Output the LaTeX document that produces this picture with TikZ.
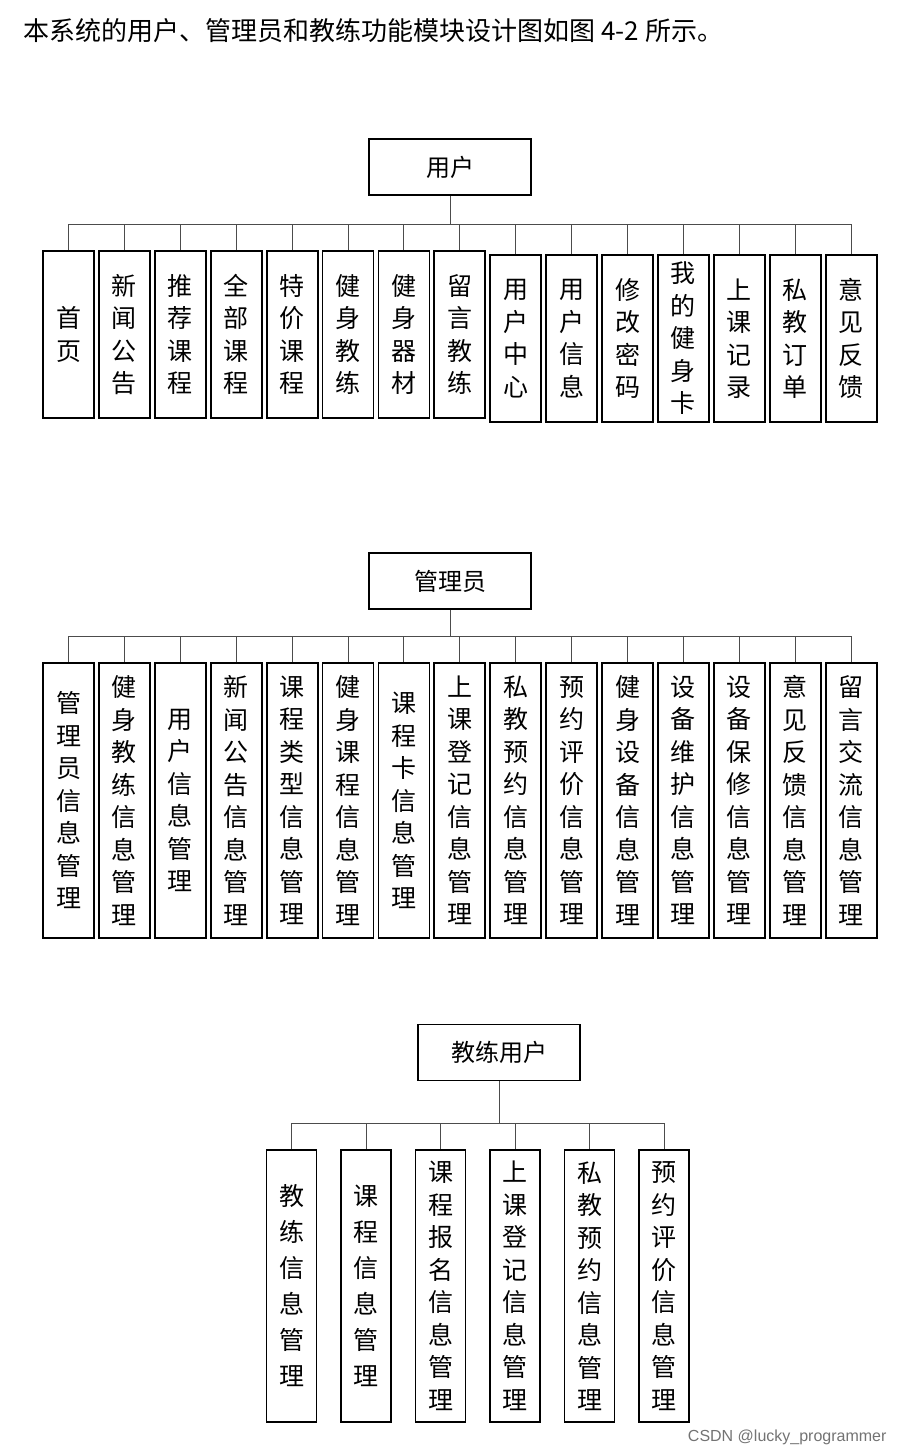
\documentclass[tikz,border=0pt]{standalone}
\usepackage{fontspec}
\newfontfamily\cjk{Noto Sans CJK SC}
\setmainfont{Liberation Sans}
\begin{document}
\begin{tikzpicture}[x=1pt,y=1pt,
  rootbox/.style={draw,line width=1.8pt,minimum width=162,minimum height=56,inner sep=0,font=\cjk\fontsize{24}{28}\selectfont},
  leafbox/.style={draw,line width=1.8pt,minimum width=51,inner sep=0,align=center},
  link/.style={draw=black!70,line width=0.9pt}]
\useasboundingbox (0,0) rectangle (906,-1456);
\node[anchor=west,font=\cjk\fontsize{26}{30}\selectfont] (title) at (20,-31) {本系统的用户、管理员和教练功能模块设计图如图 4-2 所示。};
% section 1
\node[rootbox] (r1) at (450,-167) {用户};
\coordinate (b1) at (450,-224);
\draw[link] (r1.south) -- (b1);
\foreach \t [count=\i] in {{首\\页},{新\\闻\\公\\告},{推\\荐\\课\\程},{全\\部\\课\\程},{特\\价\\课\\程},{健\\身\\教\\练},{健\\身\\器\\材},{留\\言\\教\\练},{用\\户\\中\\心},{用\\户\\信\\息},{修\\改\\密\\码},{我\\的\\健\\身\\卡},{上\\课\\记\\录},{私\\教\\订\\单},{意\\见\\反\\馈}}{
  \pgfmathsetmacro\xx{68.5+55.9*(\i-1)}
  \pgfmathsetmacro\yy{\i>8 ? -338.5 : -334.5}
  \node[leafbox,minimum height=167,font=\cjk\fontsize{25}{32.5}\selectfont] (a\i) at (\xx,\yy) {\t};
  \draw[link] (b1) -| (a\i.north);
}
% section 2
\node[rootbox] (r2) at (450,-581) {管理员};
\coordinate (b2) at (450,-636);
\draw[link] (r2.south) -- (b2);
\foreach \t [count=\i] in {{管\\理\\员\\信\\息\\管\\理},{健\\身\\教\\练\\信\\息\\管\\理},{用\\户\\信\\息\\管\\理},{新\\闻\\公\\告\\信\\息\\管\\理},{课\\程\\类\\型\\信\\息\\管\\理},{健\\身\\课\\程\\信\\息\\管\\理},{课\\程\\卡\\信\\息\\管\\理},{上\\课\\登\\记\\信\\息\\管\\理},{私\\教\\预\\约\\信\\息\\管\\理},{预\\约\\评\\价\\信\\息\\管\\理},{健\\身\\设\\备\\信\\息\\管\\理},{设\\备\\维\\护\\信\\息\\管\\理},{设\\备\\保\\修\\信\\息\\管\\理},{意\\见\\反\\馈\\信\\息\\管\\理},{留\\言\\交\\流\\信\\息\\管\\理}}{
  \pgfmathsetmacro\xx{68.5+55.9*(\i-1)}
  \node[leafbox,minimum height=275,font=\cjk\fontsize{25}{32.5}\selectfont] (m\i) at (\xx,-800.5) {\t};
  \draw[link] (b2) -| (m\i.north);
}
% section 3
\node[rootbox] (r3) at (499,-1052.5) {教练用户};
\coordinate (b3) at (499,-1123);
\draw[link] (r3.south) -- (b3);
\foreach \t/\ls [count=\i] in {{教\\练\\信\\息\\管\\理}/36,{课\\程\\信\\息\\管\\理}/36,{课\\程\\报\\名\\信\\息\\管\\理}/32.5,{上\\课\\登\\记\\信\\息\\管\\理}/32.5,{私\\教\\预\\约\\信\\息\\管\\理}/32.5,{预\\约\\评\\价\\信\\息\\管\\理}/32.5}{
  \pgfmathsetmacro\xx{291.5+74.5*(\i-1)}
  \node[leafbox,minimum width=50,minimum height=272,font=\cjk\fontsize{25}{\ls}\selectfont] (c\i) at (\xx,-1286) {\t};
  \draw[link] (b3) -| (c\i.north);
}
\node[anchor=east,text=black!55,font=\fontsize{16}{18}\selectfont] (wm) at (890,-1437) {CSDN @lucky\_programmer};
\end{tikzpicture}
\end{document}
